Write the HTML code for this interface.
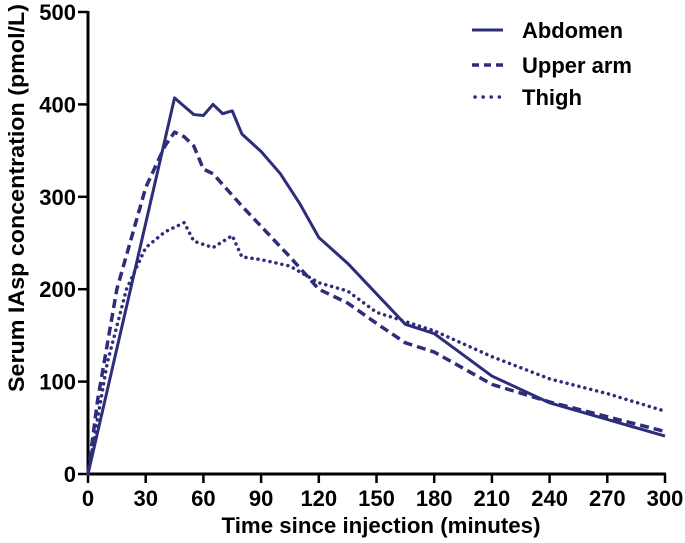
<!DOCTYPE html>
<html><head><meta charset="utf-8"><style>
body{margin:0;background:#fff}
svg{display:block;font-family:"Liberation Sans",Arial,sans-serif;font-weight:bold}
</style></head><body>
<svg id="chart" width="685" height="543"></svg>
<script>
const xTicks=[0,30,60,90,120,150,180,210,240,270,300];
const yTicks=[0,100,200,300,400,500];
const abdomenT=[0,45,50,55,60,65,70,75,80,90,100,110,120,135,150,165,180,210,240,270,300];
const abdomenV=[0,407,398,389,388,400,390,393,368,349,325,293,256,228,195,162,152,106,77,59,41];
const armT=[0,5,15,30,40,45,50,55,60,65,80,90,105,120,135,150,165,180,210,240,270,300];
const armV=[0,80,200,310,355,370,365,355,330,325,290,268,235,200,185,163,142,132,97,78,62,46];
const thighT=[0,10,20,30,40,50,55,65,75,80,90,105,120,135,150,180,210,240,270,300];
const thighV=[0,120,200,245,262,272,252,245,258,235,232,225,207,198,175,155,127,103,87,68];
const seriesNames=["Abdomen","Upper arm","Thigh"];
const X0=88,X1=665,Y0=474,Y1=12;
const sx=v=>X0+(X1-X0)*v/300, sy=v=>Y0-(Y0-Y1)*v/500;
const NS="http://www.w3.org/2000/svg", svg=document.getElementById('chart');
function mk(t,a,p){const e=document.createElementNS(NS,t);for(const k in a)e.setAttribute(k,a[k]);(p||svg).appendChild(e);return e;}
const C="#2e2d7a";
let e;
e=mk('line',{x1:X0,y1:Y1-1,x2:X0,y2:Y0+1.5,stroke:'#000','stroke-width':3});

e=mk('line',{x1:X0-1.5,y1:Y0,x2:X1+1,y2:Y0,stroke:'#000','stroke-width':3});

xTicks.forEach(t=>{
 e=mk('line',{x1:sx(t),y1:Y0,x2:sx(t),y2:Y0+9,stroke:'#000','stroke-width':2.5});
 
 e=mk('text',{x:sx(t),y:Y0+32,'text-anchor':'middle','font-size':22});e.textContent=t;
 
});
yTicks.forEach(t=>{
 e=mk('line',{x1:X0-10,y1:sy(t),x2:X0,y2:sy(t),stroke:'#000','stroke-width':2.5});
 
 e=mk('text',{x:X0-12,y:sy(t)+8,'text-anchor':'end','font-size':22});e.textContent=t;
 
});
e=mk('text',{x:381,y:533,'text-anchor':'middle','font-size':22,textLength:319,lengthAdjust:'spacingAndGlyphs'});e.textContent='Time since injection (minutes)';

e=mk('text',{x:0,y:0,'text-anchor':'middle','font-size':22,textLength:388,lengthAdjust:'spacingAndGlyphs',transform:'translate(24,198) rotate(-90)'});e.textContent='Serum IAsp concentration (pmol/L)';

const styles=[{},{'stroke-dasharray':'9,5'},{'stroke-dasharray':'0.1,6','stroke-linecap':'round'}];
const legStyles=[{},{'stroke-dasharray':'7,5'},{'stroke-dasharray':'0.1,8','stroke-linecap':'round'}];
const widths=[3,3.5,3.5];
const data=[[abdomenT,abdomenV],[armT,armV],[thighT,thighV]];
const names=['abdomen-line','upper-arm-line','thigh-line'];
const legW=[101,110,60];
const legY=[30,65,97];
data.forEach((d,i)=>{
 const pts=d[0].map((t,j)=>sx(t)+','+sy(d[1][j])).join(' ');
 const a=Object.assign({points:pts,fill:'none',stroke:C,'stroke-width':widths[i],'stroke-linejoin':'round'},styles[i]);
 e=mk('polyline',a);
 
 const ly=legY[i];
 const la=Object.assign({x1:i==2?475:472,y1:ly,x2:503,y2:ly,stroke:C,'stroke-width':widths[i]},legStyles[i]);
 e=mk('line',la);
 
 e=mk('text',{x:522,y:ly+8,'font-size':22,textLength:legW[i],lengthAdjust:'spacingAndGlyphs'});e.textContent=seriesNames[i];
 
});
</script>
</body></html>
